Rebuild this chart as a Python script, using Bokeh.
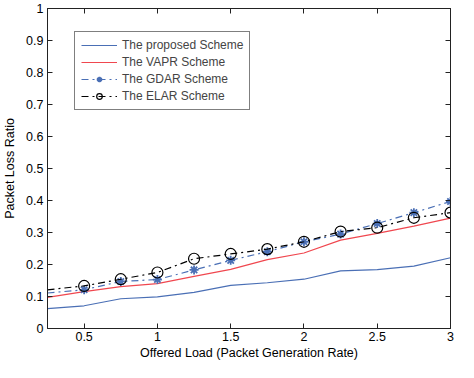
from bokeh.plotting import figure
from bokeh.models import LinearAxis, Range1d, Legend, LegendItem, FixedTicker
from bokeh.embed import file_html
from bokeh.resources import INLINE

x = [0.25, 0.5, 0.75, 1.0, 1.25, 1.5, 1.75, 2.0, 2.25, 2.5, 2.75, 3.0]
proposed = [0.062, 0.071, 0.093, 0.099, 0.113, 0.135, 0.143, 0.154, 0.180, 0.184, 0.195, 0.221]
vapr = [0.097, 0.115, 0.131, 0.140, 0.163, 0.185, 0.215, 0.236, 0.276, 0.297, 0.320, 0.345]
gdar = [0.111, 0.121, 0.147, 0.153, 0.183, 0.213, 0.240, 0.271, 0.295, 0.328, 0.362, 0.397]
elar = [0.121, 0.133, 0.154, 0.175, 0.218, 0.233, 0.248, 0.271, 0.303, 0.315, 0.346, 0.362]

x_ticks = [0.5, 1.0, 1.5, 2.0, 2.5, 3.0]
x_tick_labels = ["0.5", "1", "1.5", "2", "2.5", "3"]
y_ticks = [0.0, 0.1, 0.2, 0.3, 0.4, 0.5, 0.6, 0.7, 0.8, 0.9, 1.0]
y_tick_labels = ["0", "0.1", "0.2", "0.3", "0.4", "0.5", "0.6", "0.7", "0.8", "0.9", "1"]

labels = ["The proposed Scheme", "The VAPR Scheme", "The GDAR Scheme", "The ELAR Scheme"]

FONT = "Liberation Sans"
BLUE = "#4a6fb5"
RED = "#f0474f"
AX = "#222222"

p = figure(width=458, height=362, output_backend="svg", toolbar_location=None,
           x_range=Range1d(0.25, 3.0), y_range=Range1d(0, 1),
           min_border_left=42, min_border_right=8, min_border_top=8, min_border_bottom=30)
p.xgrid.visible = False
p.ygrid.visible = False
p.outline_line_color = AX
p.outline_line_width = 1
p.background_fill_color = "white"
p.border_fill_color = "white"

for ax in p.xaxis:
    ax.ticker = FixedTicker(ticks=x_ticks, minor_ticks=[])
    ax.major_label_overrides = {t: l for t, l in zip(x_ticks, x_tick_labels)}
    ax.axis_label = "Offered Load (Packet Generation Rate)"
    ax.major_label_standoff = 3
    ax.axis_label_standoff = 2
for ax in p.yaxis:
    ax.ticker = FixedTicker(ticks=y_ticks, minor_ticks=[])
    ax.major_label_overrides = {t: l for t, l in zip(y_ticks, y_tick_labels)}
    ax.axis_label = "Packet Loss Ratio"
    ax.major_label_standoff = 4
    ax.axis_label_standoff = 6

for ax in p.xaxis + p.yaxis:
    ax.major_tick_in = 5
    ax.major_tick_out = 0
    ax.minor_tick_in = 0
    ax.minor_tick_out = 0
    ax.axis_line_color = AX
    ax.major_tick_line_color = AX
    ax.major_label_text_font = FONT
    ax.major_label_text_font_size = "12.5px"
    ax.major_label_text_color = "black"
    ax.axis_label_text_font = FONT
    ax.axis_label_text_font_size = "12.5px"
    ax.axis_label_text_font_style = "normal"
    ax.axis_label_text_color = "black"

top = LinearAxis(ticker=FixedTicker(ticks=x_ticks, minor_ticks=[]), major_tick_in=5, major_tick_out=0,
                 minor_tick_in=0, minor_tick_out=0, major_label_text_color=None,
                 major_label_standoff=0, axis_line_color=AX, major_tick_line_color=AX)
right = LinearAxis(ticker=FixedTicker(ticks=y_ticks, minor_ticks=[]), major_tick_in=5, major_tick_out=0,
                   minor_tick_in=0, minor_tick_out=0, major_label_text_color=None,
                   major_label_standoff=0, axis_line_color=AX, major_tick_line_color=AX)
p.add_layout(top, "above")
p.add_layout(right, "right")

r1 = p.line(x, proposed, line_color=BLUE, line_width=1.2)
r2 = p.line(x, vapr, line_color=RED, line_width=1.2)
r3l = p.line(x, gdar, line_color=BLUE, line_width=1.2, line_dash="7 4 2 4")
r3m = p.scatter(x[1:], gdar[1:], marker="asterisk", size=9, line_color=BLUE, line_width=1.8)
r4l = p.line(x, elar, line_color="black", line_width=1.2, line_dash="7 4 2 4")
r4m = p.scatter(x[1:], elar[1:], marker="circle", size=11, line_color="black", fill_color=None, line_width=1.2)

legend = Legend(items=[
    LegendItem(label=labels[0], renderers=[r1]),
    LegendItem(label=labels[1], renderers=[r2]),
    LegendItem(label=labels[2], renderers=[r3l, r3m]),
    LegendItem(label=labels[3], renderers=[r4l, r4m]),
], location=(27, 218))
legend.label_text_font = FONT
legend.label_text_font_size = "12px"
legend.label_height = 14
legend.glyph_height = 14
legend.glyph_width = 36
legend.spacing = 3
legend.padding = 6
legend.margin = 0
legend.border_line_color = "black"
legend.border_line_width = 1
legend.label_standoff = 5
p.add_layout(legend, "center")

open("out.html", "w").write(file_html(p, INLINE))
